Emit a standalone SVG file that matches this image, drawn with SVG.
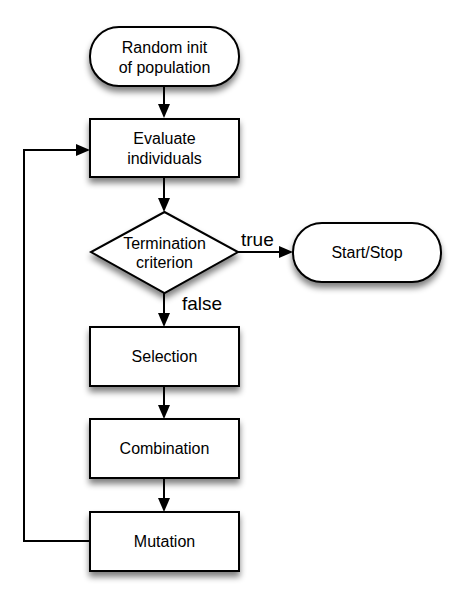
<svg xmlns="http://www.w3.org/2000/svg" width="474" height="610" viewBox="0 0 474 610">
<defs>
<filter id="sh" x="-20%" y="-20%" width="140%" height="160%">
<feGaussianBlur in="SourceAlpha" stdDeviation="3"/>
<feOffset dx="0" dy="5" result="b"/>
<feComponentTransfer><feFuncA type="linear" slope="0.5"/></feComponentTransfer>
<feMerge><feMergeNode/><feMergeNode in="SourceGraphic"/></feMerge>
</filter>
<path id="ah" d="M-6,-14 L6,-14 L0,0 Z" fill="#000"/>
</defs>
<style>
.n{fill:#fff;stroke:#000;stroke-width:2;filter:url(#sh)}
.t{font-family:"Liberation Sans",Arial,sans-serif;font-size:16px;fill:#000;text-anchor:middle}
.l{font-family:"Liberation Sans",Arial,sans-serif;font-size:19px;fill:#000}
.c{fill:none;stroke:#000;stroke-width:2}
</style>
<rect width="474" height="610" fill="#fff"/>
<g id="connectors">
<path class="c" d="M164,86 V104"/>
<use href="#ah" x="164" y="118"/>
<path class="c" d="M164,178 V198"/>
<use href="#ah" x="164" y="212"/>
<path class="c" d="M238,252 H279"/>
<use href="#ah" transform="translate(293,252) rotate(-90)"/>
<path class="c" d="M164,293 V313"/>
<use href="#ah" x="164" y="327"/>
<path class="c" d="M164,387 V405"/>
<use href="#ah" x="164" y="419"/>
<path class="c" d="M164,479 V498"/>
<use href="#ah" x="164" y="512"/>
<path class="c" d="M90,541 H24 V150 H76"/>
<use href="#ah" transform="translate(90,150) rotate(-90)"/>
<text class="l" x="241" y="246">true</text>
<text class="l" x="182" y="310">false</text>
</g>
<g id="init">
<rect class="n" x="90" y="27" width="149" height="59" rx="29" ry="29"/>
<text class="t" x="164.5" y="53">Random init</text>
<text class="t" x="164.5" y="73">of population</text>
</g>
<g id="evaluate">
<rect class="n" x="90" y="119" width="149" height="58"/>
<text class="t" x="164.5" y="144">Evaluate</text>
<text class="t" x="164.5" y="164">individuals</text>
</g>
<g id="termination">
<polygon class="n" points="164.5,212 238,252 164.5,293 91,252"/>
<text class="t" x="164.5" y="249">Termination</text>
<text class="t" x="164.5" y="268">criterion</text>
</g>
<g id="startstop">
<rect class="n" x="293" y="223" width="148" height="59" rx="29" ry="29"/>
<text class="t" x="367" y="258">Start/Stop</text>
</g>
<g id="selection">
<rect class="n" x="90" y="327" width="149" height="59"/>
<text class="t" x="164.5" y="362">Selection</text>
</g>
<g id="combination">
<rect class="n" x="90" y="419" width="149" height="59"/>
<text class="t" x="164.5" y="454">Combination</text>
</g>
<g id="mutation">
<rect class="n" x="90" y="512" width="149" height="59"/>
<text class="t" x="164.5" y="547">Mutation</text>
</g>
</svg>
